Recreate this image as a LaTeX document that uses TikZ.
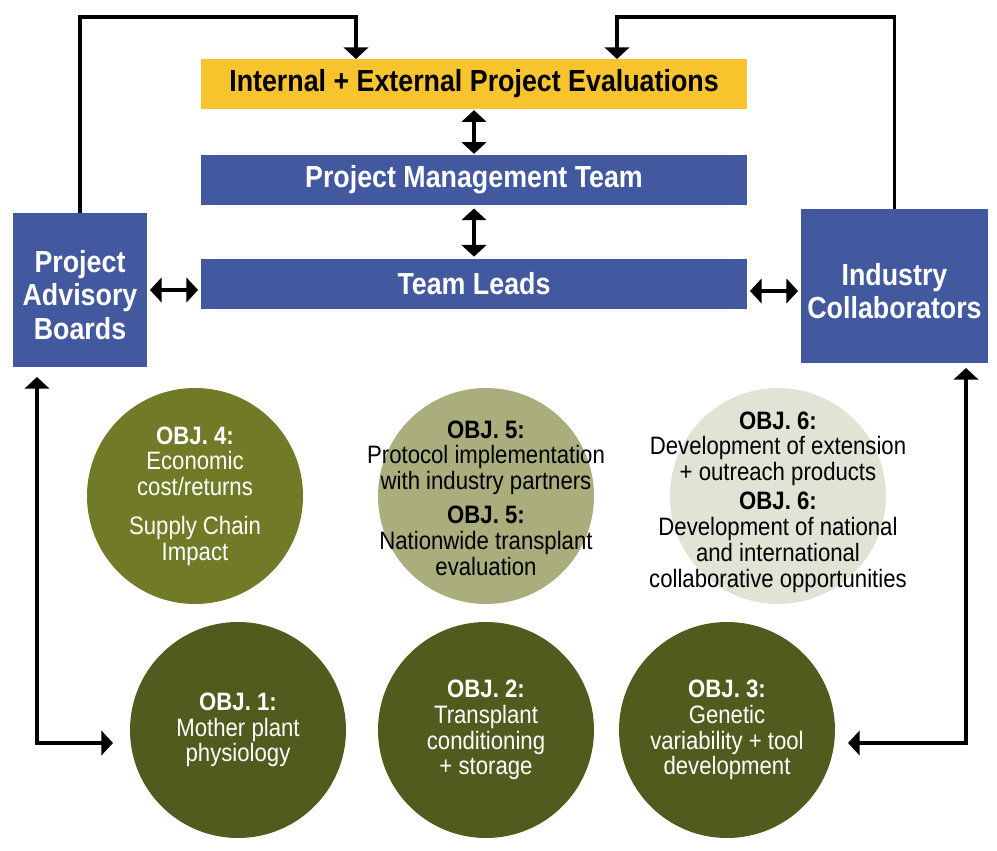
\documentclass[tikz,border=0pt]{standalone}
\usepackage{fontspec}
\setmainfont{Liberation Sans}[FakeStretch=0.88]
\usepackage{xcolor}
\usetikzlibrary{arrows.meta,positioning}
\definecolor{evalyellow}{HTML}{F8C42E}
\definecolor{teamblue}{HTML}{42599F}
\definecolor{objdark}{HTML}{525B1E}
\definecolor{objolive}{HTML}{717B27}
\definecolor{objsage}{HTML}{A9AE7C}
\definecolor{objpale}{HTML}{E2E3D5}

\begin{document}
\begin{tikzpicture}[x=0.03cm,y=-0.03cm,
  bar/.style={fill=teamblue, minimum width=16.38cm, minimum height=1.5cm, inner sep=0pt, outer sep=0pt, text=white, font=\bfseries\fontsize{26}{28}\selectfont},
  side/.style={fill=teamblue, minimum height=4.62cm, inner sep=0pt, outer sep=0pt},
  sidetxt/.style={text=white, align=center, font=\bfseries\fontsize{26}{28.5}\selectfont},
  objcirc/.style={circle, minimum size=6.48cm, inner sep=0pt, outer sep=0pt},
  objtxt/.style={align=center, font=\fontsize{21.5}{22}\selectfont},
  link/.style={line width=3.4pt, -{Triangle[width=21pt,length=10pt]}},
  both/.style={line width=3.4pt, {Triangle[width=21pt,length=10pt]}-{Triangle[width=21pt,length=10pt]}}]
\useasboundingbox (0,0) rectangle (997,851);
% ----- management boxes -----
\node[bar, fill=evalyellow, text=black] (eval) at (474,84) {Internal + External Project Evaluations};
\node[bar] (pmt) at (474,180) {Project Management Team};
\node[bar] (leads) at (474,284) {Team Leads};
\node[side, minimum width=4.02cm] (pab) at (80,290) {};
\node[side, minimum width=5.61cm] (ic) at (894.5,286) {};
\node[sidetxt] (pabtxt) at ([yshift=-0.15cm]pab.center) {Project\\Advisory\\Boards};
\node[sidetxt] (ictxt) at ([yshift=-0.15cm]ic.center) {Industry\\Collaborators};
% ----- objectives -----
\node[objcirc, fill=objolive] (o4) at (195,496) {};
\node[objcirc, fill=objsage] (o5) at (486,496) {};
\node[objcirc, fill=objpale] (o6) at (778,496) {};
\node[objcirc, fill=objdark] (o1) at (238,730) {};
\node[objcirc, fill=objdark] (o2) at (486,730) {};
\node[objcirc, fill=objdark] (o3) at (727,730) {};
\node[objtxt, text=white] (t4) at (o4) {\textbf{OBJ. 4:}\\Economic\\cost/returns\\[11pt]Supply Chain\\Impact};
\node[objtxt] (t5) at ([yshift=-0.06cm]o5) {\textbf{OBJ. 5:}\\Protocol implementation\\with industry partners\\[7pt]\textbf{OBJ. 5:}\\Nationwide transplant\\evaluation};
\node[objtxt] (t6) at ([yshift=-0.18cm]o6) {\textbf{OBJ. 6:}\\Development of extension\\+ outreach products\\[3pt]\textbf{OBJ. 6:}\\Development of national\\and international\\collaborative opportunities};
\node[objtxt, text=white] (t1) at (o1) {\textbf{OBJ. 1:}\\Mother plant\\physiology};
\node[objtxt, text=white] (t2) at (o2) {\textbf{OBJ. 2:}\\Transplant\\conditioning\\+ storage};
\node[objtxt, text=white] (t3) at (o3) {\textbf{OBJ. 3:}\\Genetic\\variability + tool\\development};
% ----- connectors -----
\draw[both, shorten <=1pt, shorten >=1pt] (eval) -- (pmt);
\draw[both, shorten <=3pt, shorten >=2pt] (pmt) -- (leads);
\draw[both, shorten <=2.5pt, shorten >=2.5pt] (pab.east) -- (pab.east -| leads.west);
\draw[both, shorten <=2.5pt, shorten >=2.5pt] ([yshift=-0.15cm]ic.west) -- ([yshift=-0.15cm]ic.west -| leads.east);
\draw[link] (pab.north) |- ([xshift=-3.54cm,yshift=1.26cm]eval.north) -- ([xshift=-3.54cm]eval.north);
\draw[link] (ic.north) |- ([xshift=4.29cm,yshift=1.26cm]eval.north) -- ([xshift=4.29cm]eval.north);
\draw[both] ([xshift=-1.29cm,yshift=-0.3cm]pab.south) |- ([xshift=-0.51cm,yshift=-0.39cm]o1.west);
\draw[both] ([xshift=2.145cm,yshift=-0.15cm]ic.south) |- ([xshift=0.39cm,yshift=-0.39cm]o3.east);
\end{tikzpicture}
\end{document}
